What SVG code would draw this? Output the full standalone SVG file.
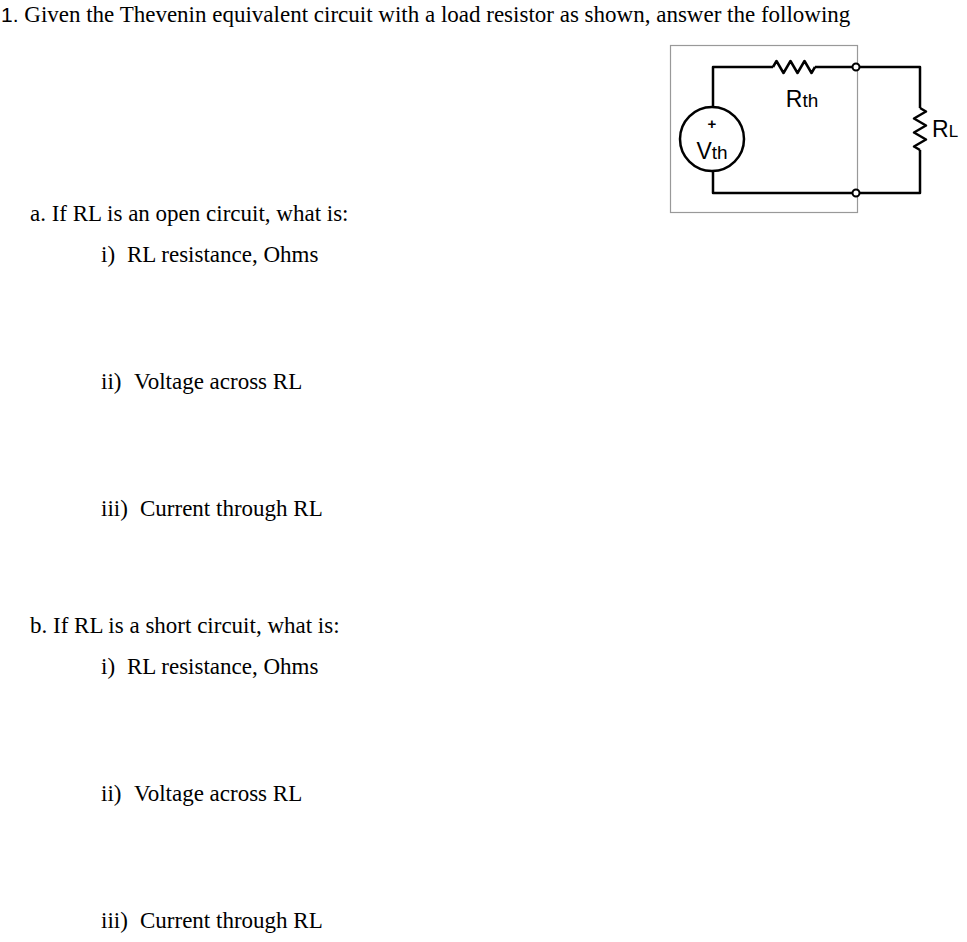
<svg xmlns="http://www.w3.org/2000/svg" width="967" height="942" viewBox="0 0 967 942">
<style>
.t{font-family:"Liberation Serif",serif;font-size:23px;fill:#000}
.s{font-family:"Liberation Sans",Arial,sans-serif;fill:#000}
.w{fill:none;stroke:#000;stroke-width:2.5;stroke-linejoin:round}
</style>
<rect width="967" height="942" fill="#fff"/>
<text class="t" x="1" y="22"><tspan class="s" font-size="21">1.</tspan> Given the Thevenin equivalent circuit with a load resistor as shown, answer the following</text>
<text class="t" x="30" y="221">a. If RL is an open circuit, what is:</text>
<text class="t" x="101" y="262">i)</text><text class="t" x="127" y="262">RL resistance, Ohms</text>
<text class="t" x="101" y="389">ii)</text><text class="t" x="134" y="389">Voltage across RL</text>
<text class="t" x="101" y="516">iii)</text><text class="t" x="140" y="516">Current through RL</text>
<text class="t" x="30" y="633">b. If RL is a short circuit, what is:</text>
<text class="t" x="101" y="674">i)</text><text class="t" x="127" y="674">RL resistance, Ohms</text>
<text class="t" x="101" y="801">ii)</text><text class="t" x="134" y="801">Voltage across RL</text>
<text class="t" x="101" y="928">iii)</text><text class="t" x="140" y="928">Current through RL</text>
<g id="box"><rect x="670.5" y="45.5" width="187" height="167" fill="none" stroke="#999" stroke-width="1.2"/></g>
<g id="connectors">
<path class="w" d="M713,107 V67 H773 M815,67 H852.5 M859.5,67 H920 V108 M920,150 V193 H859.5 M852.5,193 H713 V171"/>
</g>
<g id="Rth"><path class="w" d="M773,67 l3.5,-6 l7,12 l7,-12 l7,12 l7,-12 l7,12 l3.5,-6"/>
<text class="s" x="802" y="107" font-size="23" text-anchor="middle">R<tspan font-size="19">th</tspan></text></g>
<g id="RL"><path class="w" d="M920,108 l6,3.5 l-12,7 l12,7 l-12,7 l12,7 l-12,7 l6,3.5"/>
<text class="s" x="932" y="137" font-size="23">R<tspan font-size="17">L</tspan></text></g>
<g id="Vth"><circle class="w" cx="712" cy="139" r="32"/>
<text class="s" x="712" y="129" font-size="15" font-weight="bold" text-anchor="middle">+</text>
<text class="s" x="712" y="159" font-size="23" text-anchor="middle">V<tspan font-size="19">th</tspan></text></g>
<g id="terminals"><circle cx="856" cy="67" r="3.5" fill="#fff" stroke="#000" stroke-width="2"/>
<circle cx="856" cy="193" r="3.5" fill="#fff" stroke="#000" stroke-width="2"/></g>
</svg>
